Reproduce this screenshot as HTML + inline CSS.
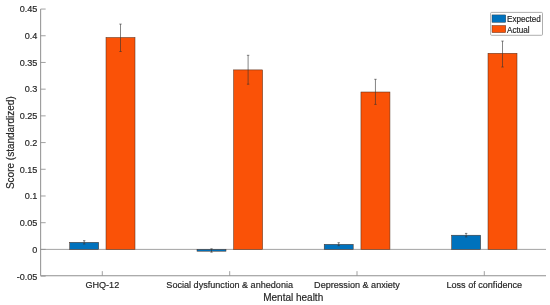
<!DOCTYPE html>
<html><head><meta charset="utf-8"><title>Mental health</title>
<style>
html,body{margin:0;padding:0;background:#fff;}
body{width:550px;height:305px;overflow:hidden;}
svg{display:block;}
text{font-family:"Liberation Sans",Arial,Helvetica,sans-serif;fill:#262626;stroke:#262626;stroke-width:0.18px;}
.t{font-size:9.08px;}
.g{font-size:8.15px;}
.l{font-size:10px;}
</style></head><body>
<svg width="550" height="305" viewBox="0 0 550 305">
<rect width="550" height="305" fill="#fff"/>
<line x1="40.65" y1="249.4" x2="546" y2="249.4" stroke="#999" stroke-width="0.9"/>
<rect x="69.70" y="242.30" width="29.0" height="7.10" fill="#0072BD" stroke="#4a2a18" stroke-width="0.5"/>
<path d="M84.20 240.7V244.0M83.00 240.7h2.4M83.00 244.0h2.4" stroke="#333" stroke-width="0.6" fill="none"/>
<rect x="106.00" y="37.50" width="29.0" height="211.90" fill="#FA5207" stroke="#4a2a18" stroke-width="0.5"/>
<path d="M120.50 24.1V51.5M119.30 24.1h2.4M119.30 51.5h2.4" stroke="#333" stroke-width="0.6" fill="none"/>
<rect x="197.00" y="249.40" width="29.0" height="1.80" fill="#0072BD" stroke="#4a2a18" stroke-width="0.5"/>
<path d="M211.50 248.8V252.2M210.30 248.8h2.4M210.30 252.2h2.4" stroke="#333" stroke-width="0.6" fill="none"/>
<rect x="233.60" y="69.90" width="29.0" height="179.50" fill="#FA5207" stroke="#4a2a18" stroke-width="0.5"/>
<path d="M248.10 55.3V84.2M246.90 55.3h2.4M246.90 84.2h2.4" stroke="#333" stroke-width="0.6" fill="none"/>
<rect x="324.20" y="244.30" width="29.0" height="5.10" fill="#0072BD" stroke="#4a2a18" stroke-width="0.5"/>
<path d="M338.70 242.7V245.7M337.50 242.7h2.4M337.50 245.7h2.4" stroke="#333" stroke-width="0.6" fill="none"/>
<rect x="360.95" y="92.00" width="29.0" height="157.40" fill="#FA5207" stroke="#4a2a18" stroke-width="0.5"/>
<path d="M375.45 79.3V104.4M374.25 79.3h2.4M374.25 104.4h2.4" stroke="#333" stroke-width="0.6" fill="none"/>
<rect x="451.65" y="235.20" width="29.0" height="14.20" fill="#0072BD" stroke="#4a2a18" stroke-width="0.5"/>
<path d="M466.15 233.4V236.9M464.95 233.4h2.4M464.95 236.9h2.4" stroke="#333" stroke-width="0.6" fill="none"/>
<rect x="488.00" y="53.30" width="29.0" height="196.10" fill="#FA5207" stroke="#4a2a18" stroke-width="0.5"/>
<path d="M502.50 41.1V67.0M501.30 41.1h2.4M501.30 67.0h2.4" stroke="#333" stroke-width="0.6" fill="none"/>
<path d="M40.65 9.05V275.75H546" stroke="#8f8f8f" stroke-width="1" fill="none"/>
<path d="M40.65 276.11h5M40.65 249.40h5M40.65 222.69h5M40.65 195.99h5M40.65 169.28h5M40.65 142.58h5M40.65 115.87h5M40.65 89.17h5M40.65 62.46h5M40.65 35.76h5M40.65 9.05h5M102.3 275.75v-4.6M229.7 275.75v-4.6M357.0 275.75v-4.6M484.3 275.75v-4.6" stroke="#909090" stroke-width="0.85" fill="none"/>
<text class="t" x="37.4" y="279.96" text-anchor="end">-0.05</text>
<text class="t" x="37.4" y="252.65" text-anchor="end">0</text>
<text class="t" x="37.4" y="225.94" text-anchor="end">0.05</text>
<text class="t" x="37.4" y="199.24" text-anchor="end">0.1</text>
<text class="t" x="37.4" y="172.53" text-anchor="end">0.15</text>
<text class="t" x="37.4" y="145.83" text-anchor="end">0.2</text>
<text class="t" x="37.4" y="119.12" text-anchor="end">0.25</text>
<text class="t" x="37.4" y="92.42" text-anchor="end">0.3</text>
<text class="t" x="37.4" y="65.71" text-anchor="end">0.35</text>
<text class="t" x="37.4" y="39.01" text-anchor="end">0.4</text>
<text class="t" x="37.4" y="12.30" text-anchor="end">0.45</text>
<text class="t" x="102.3" y="288.1" text-anchor="middle">GHQ-12</text>
<text class="t" x="229.7" y="288.1" text-anchor="middle">Social dysfunction &amp; anhedonia</text>
<text class="t" x="357.0" y="288.1" text-anchor="middle">Depression &amp; anxiety</text>
<text class="t" x="484.3" y="288.1" text-anchor="middle">Loss of confidence</text>
<text class="l" x="293.2" y="300.6" text-anchor="middle">Mental health</text>
<text class="l" transform="translate(13.5 142.70) rotate(-90)" text-anchor="middle">Score (standardized)</text>
<rect x="490.6" y="12.4" width="51.9" height="22.9" rx="1" fill="#fff" stroke="#9a9a9a" stroke-width="0.8"/>
<rect x="492" y="14.9" width="13.8" height="7.5" fill="#0072BD" stroke="#333" stroke-width="0.4"/>
<rect x="492" y="25.4" width="13.8" height="7.3" fill="#FA5207" stroke="#333" stroke-width="0.4"/>
<text class="g" x="507" y="21.75">Expected</text>
<text class="g" x="507" y="32.85">Actual</text>
</svg></body></html>
